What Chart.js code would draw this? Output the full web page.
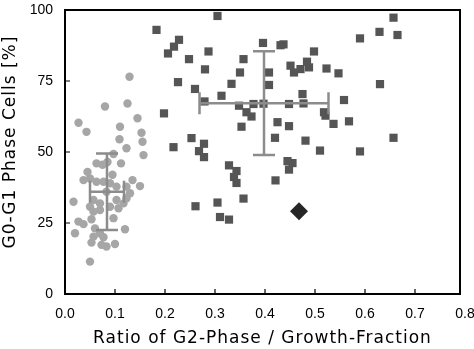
<!DOCTYPE html>
<html>
<head>
<meta charset="utf-8">
<script src="https://cdn.jsdelivr.net/npm/chart.js@4/dist/chart.umd.min.js"></script>
<style>
html,body{margin:0;padding:0;background:#fff;}
#wrap{width:474px;height:349px;position:relative;}
</style>
</head>
<body>
<div id="wrap"><canvas id="c" width="474" height="349"></canvas></div>
<script>
// Light gray circles (low ratio group)
const circleX = [0.129,0.080,0.125,0.027,0.043,0.145,0.110,0.153,0.109,0.155,0.123,0.157,0.097,0.063,0.075,0.085,0.112,0.135,0.150,0.037,0.050,0.063,0.077,0.090,0.103,0.123,0.130,0.017,0.057,0.070,0.050,0.103,0.117,0.123,0.090,0.107,0.057,0.070,0.027,0.037,0.053,0.097,0.020,0.060,0.070,0.057,0.077,0.120,0.053,0.073,0.083,0.100,0.050,0.083,0.045,0.095];
const circleY = [76.5,66.0,67.1,60.3,57.1,61.9,58.9,56.8,54.5,53.6,51.3,48.9,49.3,46.0,45.5,46.5,46.0,40.1,38.0,40.1,40.7,39.5,39.5,39.0,37.8,37.8,35.5,32.5,33.1,31.9,30.7,33.1,31.9,33.7,30.7,30.2,29.0,29.6,25.5,24.6,26.3,26.7,21.4,23.1,21.4,20.2,20.0,22.8,18.1,17.3,16.7,17.6,11.4,36.0,43.0,42.0];
// Dark gray squares (high ratio group)
const squareX = [0.305,0.183,0.228,0.218,0.206,0.287,0.248,0.396,0.431,0.437,0.498,0.357,0.280,0.350,0.408,0.451,0.458,0.471,0.484,0.488,0.226,0.260,0.333,0.408,0.313,0.279,0.348,0.377,0.363,0.373,0.448,0.475,0.477,0.198,0.353,0.425,0.448,0.420,0.481,0.253,0.217,0.278,0.268,0.278,0.510,0.445,0.455,0.448,0.328,0.343,0.338,0.343,0.421,0.357,0.305,0.261,0.310,0.328,0.657,0.629,0.665,0.590,0.523,0.547,0.630,0.558,0.518,0.521,0.537,0.568,0.590,0.657,0.397];
const squareY = [97.9,93.0,89.5,87.1,84.7,85.4,82.7,88.4,87.6,87.9,85.4,82.7,79.1,78.0,78.0,80.4,78.0,79.2,81.8,79.8,74.6,72.2,74.0,73.6,69.8,67.8,66.3,66.9,64.0,62.5,66.9,70.4,67.1,63.6,58.9,60.5,59.1,55.0,54.0,54.9,51.7,52.9,50.3,48.2,50.5,46.8,46.1,43.8,45.3,43.3,41.2,39.1,40.0,33.6,32.2,30.9,27.1,26.2,97.3,92.3,91.2,90.0,79.4,77.7,73.9,68.3,64.0,62.8,59.9,60.8,50.2,55.0,67.0];
// Single diamond
const diamondX = [0.468];
const diamondY = [29.1];
// Group means and spreads (error crosses)
const errMeanX = [0.084, 0.398];
const errMeanY = [36.0, 67.2];
const errSdX = [0.034, 0.129];
const errSdY = [13.5, 18.3];
// Tick labels
const xTicks = [0.0,0.1,0.2,0.3,0.4,0.5,0.6,0.7,0.8];
const yTicks = [0,25,50,75,100];

const toPts = (xs, ys) => xs.map((x, i) => ({x: x, y: ys[i]}));
const TITLE_FONT = "'DejaVu Sans', sans-serif";
const TICK_FONT = "'Liberation Sans', Arial, sans-serif";

// widen axis titles slightly (letter spacing) to match the reference's wide typeface
function spaceTitle(s, shiftY) {
  if (s._spaced) return;
  s._spaced = true;
  const orig = Object.getPrototypeOf(s).drawTitle;
  s.drawTitle = function () {
    const ctx = this.ctx;
    ctx.save();
    ctx.letterSpacing = '1px';
    if (shiftY) ctx.translate(0, shiftY);
    orig.call(this);
    ctx.restore();
  };
}

const framePlugin = {
  id: 'frame',
  afterDatasetsDraw(chart) {
    const ctx = chart.ctx, xs = chart.scales.x, ys = chart.scales.y;
    ctx.save();
    ctx.strokeStyle = '#8c8c8c';
    ctx.lineWidth = 2.5;
    const cap = 11;
    errMeanX.forEach((mx, i) => {
      const px = xs.getPixelForValue(mx), py = ys.getPixelForValue(errMeanY[i]);
      const x0 = xs.getPixelForValue(mx - errSdX[i]), x1 = xs.getPixelForValue(mx + errSdX[i]);
      const y0 = ys.getPixelForValue(errMeanY[i] - errSdY[i]), y1 = ys.getPixelForValue(errMeanY[i] + errSdY[i]);
      ctx.beginPath();
      ctx.moveTo(px, y0); ctx.lineTo(px, y1);
      ctx.moveTo(x0, py); ctx.lineTo(x1, py);
      ctx.moveTo(px - cap, y0); ctx.lineTo(px + cap, y0);
      ctx.moveTo(px - cap, y1); ctx.lineTo(px + cap, y1);
      ctx.moveTo(x0, py - cap); ctx.lineTo(x0, py + cap);
      ctx.moveTo(x1, py - cap); ctx.lineTo(x1, py + cap);
      ctx.stroke();
    });
    ctx.restore();
  },
  afterDraw(chart) {
    const ctx = chart.ctx, a = chart.chartArea, xs = chart.scales.x, ys = chart.scales.y;
    ctx.save();
    ctx.strokeStyle = '#000';
    ctx.lineWidth = 2;
    ctx.strokeRect(a.left, a.top, a.right - a.left, a.bottom - a.top);
    ctx.lineWidth = 1.2;
    ctx.beginPath();
    xTicks.forEach(v => {
      const p = xs.getPixelForValue(v);
      if (p > a.left + 2 && p < a.right - 2) { ctx.moveTo(p, a.bottom); ctx.lineTo(p, a.bottom - 5); }
    });
    yTicks.forEach(v => {
      const p = ys.getPixelForValue(v);
      if (p > a.top + 2 && p < a.bottom - 2) { ctx.moveTo(a.left, p); ctx.lineTo(a.left + 5, p); }
    });
    ctx.stroke();
    ctx.restore();
  }
};

new Chart(document.getElementById('c'), {
  type: 'scatter',
  data: {
    datasets: [
      {data: toPts(circleX, circleY), pointStyle: 'circle', pointRadius: 4.2, pointHoverRadius: 4.2, backgroundColor: '#a6a6a6', borderWidth: 0},
      {data: toPts(squareX, squareY), pointStyle: 'rect', pointRadius: 5.8, pointHoverRadius: 5.8, backgroundColor: '#555555', borderWidth: 0},
      {data: toPts(diamondX, diamondY), pointStyle: 'rectRot', pointRadius: 9, pointHoverRadius: 9, backgroundColor: '#262626', borderWidth: 0}
    ]
  },
  options: {
    responsive: false,
    animation: false,
    events: [],
    layout: {padding: {left: 0, top: 10, right: 14, bottom: 0}},
    plugins: {legend: {display: false}, tooltip: {enabled: false}},
    scales: {
      x: {
        type: 'linear', min: 0, max: 0.79,
        afterBuildTicks: s => { s.ticks = xTicks.map(v => ({value: v})); },
        afterFit: s => { s.height = 55; s.paddingRight = 0; s.paddingLeft = 0; spaceTitle(s, 0); },
        grid: {display: false, drawTicks: false},
        border: {display: false},
        ticks: {autoSkip: false, maxRotation: 0, padding: 12, color: '#000', font: {family: TICK_FONT, size: 14}, callback: v => Number(v).toFixed(1)},
        title: {display: true, text: 'Ratio of G2-Phase / Growth-Fraction', color: '#000', font: {family: TITLE_FONT, size: 17}, padding: {top: 5, bottom: 0}}
      },
      y: {
        type: 'linear', min: 0, max: 100,
        afterBuildTicks: s => { s.ticks = yTicks.map(v => ({value: v})); },
        afterFit: s => { s.width = 65; s.paddingTop = 0; s.paddingBottom = 0; spaceTitle(s, -10); },
        grid: {display: false, drawTicks: false},
        border: {display: false},
        ticks: {autoSkip: false, padding: 12, color: '#000', font: {family: TICK_FONT, size: 14}},
        title: {display: true, text: 'G0-G1 Phase Cells [%]', color: '#000', font: {family: TITLE_FONT, size: 17}, padding: {top: 0, bottom: 4}}
      }
    }
  },
  plugins: [framePlugin]
});
</script>
</body>
</html>
